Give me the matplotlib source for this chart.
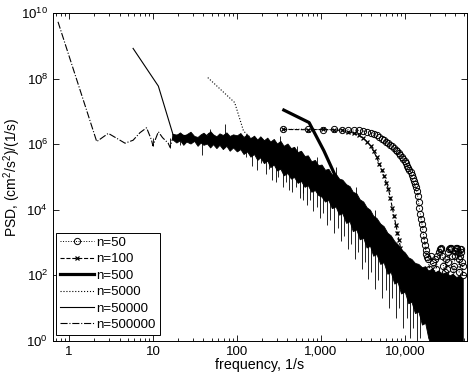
import numpy as np
import matplotlib
matplotlib.use("Agg")
import matplotlib.pyplot as plt
from matplotlib.ticker import FixedLocator, FixedFormatter, LogLocator, NullLocator

plt.rcParams["font.family"] = ["Liberation Sans", "DejaVu Sans"]
plt.rcParams["mathtext.default"] = "regular"

# n=50 and n=100 spectra share the same frequency bin spacing (Hz)
bin_short = 355.0
k50 = np.r_[1:53, 53:141:2]
psd50_log = [
    6.45, 6.46, 6.44, 6.45, 6.44, 6.44, 6.43, 6.42, 6.40, 6.38,
    6.35, 6.31, 6.27, 6.22, 6.17, 6.12, 6.08, 6.04, 5.99, 5.94,
    5.88, 5.83, 5.78, 5.73, 5.67, 5.61, 5.55, 5.49, 5.42, 5.35,
    5.28, 5.22, 5.15, 5.06, 4.97, 4.88, 4.78, 4.68, 4.58, 4.42,
    4.25, 4.05, 3.88, 3.72, 3.56, 3.40, 3.24, 3.08, 2.92, 2.76, 2.64, 2.55,
    # noisy tail, every second bin
    2.50, 2.20, 2.60, 2.00, 2.40, 1.90, 2.50, 2.20, 2.60, 2.70,
    2.80, 2.85, 2.80, 2.60, 2.30, 1.90, 2.10, 2.50, 2.20, 2.40,
    2.70, 2.80, 2.85, 2.85, 2.80, 2.60, 2.20, 1.80, 2.30, 2.60,
    2.75, 2.85, 2.85, 2.80, 2.70, 2.50, 2.10, 2.60, 2.80, 2.80,
    2.70, 2.40, 2.00, 2.30,
]

k100 = np.arange(1, 41)
psd100_log = [
    6.45, 6.44, 6.45, 6.43, 6.42, 6.38, 6.33, 6.27, 6.18, 6.08,
    5.95, 5.78, 5.60, 5.40, 5.22, 5.02, 4.82, 4.62, 4.35, 4.05,
    3.80, 3.55, 3.30, 3.08, 2.85, 2.62, 2.40, 2.25, 2.10, 2.00,
    1.80, 2.10, 1.70, 1.90, 1.60, 2.00, 1.70, 1.50, 1.80, 1.60,
]

f500 = [362, 724, 1086, 1448, 1810, 2172]
psd500_log = [7.04, 6.66, 5.80, 5.10, 4.60, 4.25]

f5000 = [45, 94, 120, 160, 200, 240, 280, 320, 360, 400, 440, 480]
psd5000_log = [8.03, 7.27, 6.40, 6.10, 5.85, 6.05, 5.75, 5.95, 5.55, 5.85, 5.45, 5.70]

f50000 = [5.8, 11.6, 17.4, 23.2, 29.0, 34.8, 40.6, 46.4, 52.2, 58.0,
          63.8, 69.6, 75.4, 81.2, 87.0, 92.8, 98.6]
psd50000_log = [8.92, 7.77, 6.28, 6.27, 6.22, 6.12, 6.18, 6.33, 6.25, 6.15,
                6.22, 6.10, 6.20, 6.05, 6.15, 6.00, 6.12]

f500000 = [0.74, 2.14, 2.94, 3.7, 4.65, 5.8, 7.0, 8.4, 9.6, 10.0,
           11.6, 13.0, 15.2, 16.0, 17.5]
psd500000_log = [9.73, 6.08, 6.33, 6.18, 6.03, 6.12, 6.35, 6.50, 6.13, 5.95,
                 6.38, 6.20, 6.03, 5.90, 6.25]

# dense noise band (n=500000 and friends), upper / lower envelope
band_f = [17, 19, 21, 23, 25, 28, 31, 34, 37, 40, 44, 48, 52, 57, 62, 68, 75, 82,
          90, 100, 110, 120, 132, 145, 160, 175, 190, 210, 230, 250, 275, 300,
          330, 360, 400, 440, 480, 530, 580, 640, 700, 770, 850, 930, 1020, 1120,
          1230, 1350, 1500, 1650, 1800, 2000, 2200, 2400, 2650, 2900, 3200, 3500,
          3850, 4200, 4600, 5100, 5600, 6200, 6800, 7500, 8200, 9000, 10000,
          11000, 12000, 13200, 14500, 16000, 17500, 19000, 21000, 23000, 25000,
          28000, 31000, 34000, 37000, 41000, 45000, 49000]
band_hi_log = [6.32, 6.28, 6.36, 6.27, 6.30, 6.38, 6.25, 6.22, 6.30, 6.35, 6.26,
               6.40, 6.30, 6.24, 6.33, 6.28, 6.36, 6.25, 6.30, 6.27, 6.34, 6.22,
               6.30, 6.18, 6.26, 6.14, 6.24, 6.12, 6.20, 6.08, 6.16, 6.02, 6.10,
               5.95, 6.02, 5.88, 5.92, 5.76, 5.80, 5.64, 5.66, 5.48, 5.52, 5.36,
               5.38, 5.22, 5.25, 5.08, 5.10, 4.95, 4.92, 4.78, 4.72, 4.55, 4.50,
               4.32, 4.25, 4.08, 4.00, 3.82, 3.75, 3.58, 3.50, 3.30, 3.22, 3.05,
               2.95, 2.80, 2.70, 2.55, 2.50, 2.38, 2.35, 2.25, 2.28, 2.15, 2.20,
               2.10, 2.15, 2.05, 2.10, 2.00, 2.05, 1.95, 2.00, 1.90]
band_lo_log = [6.15, 6.05, 6.12, 5.98, 6.08, 6.02, 6.10, 5.95, 6.05, 5.98, 6.02,
               5.90, 6.00, 5.88, 5.98, 5.85, 5.95, 5.80, 5.90, 5.78, 5.85, 5.70,
               5.78, 5.62, 5.70, 5.52, 5.60, 5.42, 5.50, 5.30, 5.38, 5.20, 5.25,
               5.05, 5.12, 4.95, 5.00, 4.82, 4.88, 4.70, 4.75, 4.55, 4.60, 4.45,
               4.40, 4.25, 4.30, 4.05, 4.10, 3.85, 3.90, 3.60, 3.65, 3.35, 3.40,
               3.10, 3.15, 2.85, 2.90, 2.60, 2.65, 2.35, 2.40, 2.05, 2.10, 1.75,
               1.80, 1.45, 1.50, 1.15, 1.20, 0.85, 0.90, 0.50, 0.55, 0.10, -0.2,
               -0.2, -0.2, -0.2, -0.2, -0.2, -0.2, -0.2, -0.2, -0.2]

# single spikes sticking out of the band: frequency, low, high (log10)
spike_f = [10, 15.9, 21, 38, 48, 72, 130, 196, 265, 420, 610,
           150, 175, 220, 240, 290, 310, 350, 380, 450, 500, 560, 620, 680, 740,
           800, 900, 980, 1060, 1180, 1290, 1420, 1580, 1720, 1900, 2100, 2300,
           2550, 2780, 3050, 3350, 3680, 4000, 4400, 4850, 5350, 5900, 6500,
           7100, 7850, 8600, 9500, 10500, 11500, 12600, 13800, 15200,
           330, 520, 900, 1500, 2600, 4400]
spike_lo = [5.93, 5.87, 5.98, 5.67, 6.00, 6.00, 5.60, 5.42, 4.90, 4.60, 4.30,
            5.35, 5.20, 5.10, 5.25, 4.85, 5.00, 4.70, 4.85, 4.55, 4.70, 4.35,
            4.50, 4.15, 4.30, 3.95, 4.10, 3.75, 3.90, 3.55, 3.70, 3.30, 3.45,
            3.05, 3.20, 2.80, 2.95, 2.50, 2.70, 2.20, 2.40, 1.90, 2.10, 1.60,
            1.85, 1.30, 1.55, 1.00, 1.30, 0.70, 1.00, 0.40, 0.70, 0.10, 0.40,
            -0.2, 0.10,
            5.90, 5.50, 5.00, 4.70, 4.00, 3.40]
spike_hi = [6.20, 6.20, 6.25, 6.10, 6.45, 6.62, 6.30, 5.90, 5.60, 5.90, 5.70,
            5.90, 5.80, 5.70, 5.90, 5.60, 5.60, 5.40, 5.50, 5.30, 5.40, 5.20,
            5.20, 5.00, 5.00, 4.90, 4.80, 4.70, 4.60, 4.50, 4.40, 4.20, 4.20,
            4.00, 3.90, 3.80, 3.70, 3.50, 3.40, 3.20, 3.10, 3.00, 2.90, 2.70,
            2.60, 2.40, 2.30, 2.10, 2.00, 1.80, 1.70, 1.50, 1.40, 1.20, 1.10,
            0.90, 0.80,
            6.25, 5.95, 5.60, 5.30, 4.70, 4.00]

xtick_vals = [1, 10, 100, 1000, 10000]
xtick_text = ["1", "10", "100", "1,000", "10,000"]
ytick_vals = [1e0, 1e2, 1e4, 1e6, 1e8, 1e10]


def main():
    fig = plt.figure(figsize=(4.74, 3.75), dpi=100)
    ax = fig.add_axes([0.1118, 0.0907, 0.8734, 0.8747])

    ax.plot(bin_short * k50, 10 ** np.array(psd50_log), ":", color="black", lw=0.7,
            marker="o", ms=4.5, mfc="none", mew=0.7, label="n=50")
    ax.plot(bin_short * k100, 10 ** np.array(psd100_log), "--", color="black", lw=0.8,
            marker="x", ms=3.2, mew=0.9, label="n=100")
    ax.plot(f500, 10 ** np.array(psd500_log), "-", color="black", lw=2.3, label="n=500")
    ax.plot(f5000, 10 ** np.array(psd5000_log), ":", color="black", lw=0.8, label="n=5000")
    ax.plot(f50000, 10 ** np.array(psd50000_log), "-", color="black", lw=0.8, label="n=50000")
    ax.plot(f500000, 10 ** np.array(psd500000_log), "-.", color="black", lw=0.8,
            label="n=500000")

    ax.fill_between(band_f, 10 ** np.array(band_lo_log), 10 ** np.array(band_hi_log),
                    color="black", lw=0.6, edgecolor="black")
    ax.vlines(spike_f, 10 ** np.array(spike_lo), 10 ** np.array(spike_hi),
              color="black", lw=0.6)

    ax.set_xscale("log")
    ax.set_yscale("log")
    ax.set_xlim(0.645, 5.5e4)
    ax.set_ylim(1, 1e10)

    ax.xaxis.set_major_locator(FixedLocator(xtick_vals))
    ax.xaxis.set_major_formatter(FixedFormatter(xtick_text))
    ax.xaxis.set_minor_locator(LogLocator(base=10, subs=np.arange(2, 10)))
    ax.yaxis.set_major_locator(FixedLocator(ytick_vals))
    ax.yaxis.set_minor_locator(NullLocator())
    ax.tick_params(which="both", direction="in", top=True, right=True,
                   labelsize=9.5, width=0.6)
    ax.tick_params(which="major", length=4)
    ax.tick_params(which="minor", length=2)
    for s in ax.spines.values():
        s.set_linewidth(0.7)

    ax.set_xlabel("frequency, 1/s", fontsize=10.3, labelpad=0)
    ax.set_ylabel("PSD, (cm$^2$/s$^2$)/(1/s)", fontsize=10)
    ax.yaxis.set_label_coords(-0.072, 0.5)

    leg = ax.legend(loc="lower left", bbox_to_anchor=(0.0, 0.01), fontsize=9.5,
                    numpoints=1, handlelength=2.6, handletextpad=0.2,
                    labelspacing=0.32, borderpad=0.3, borderaxespad=0.2,
                    fancybox=False, framealpha=1)
    leg.get_frame().set_edgecolor("black")
    leg.get_frame().set_linewidth(0.7)

    fig.savefig("out.png", dpi=100)


if __name__ == "__main__":
    main()
